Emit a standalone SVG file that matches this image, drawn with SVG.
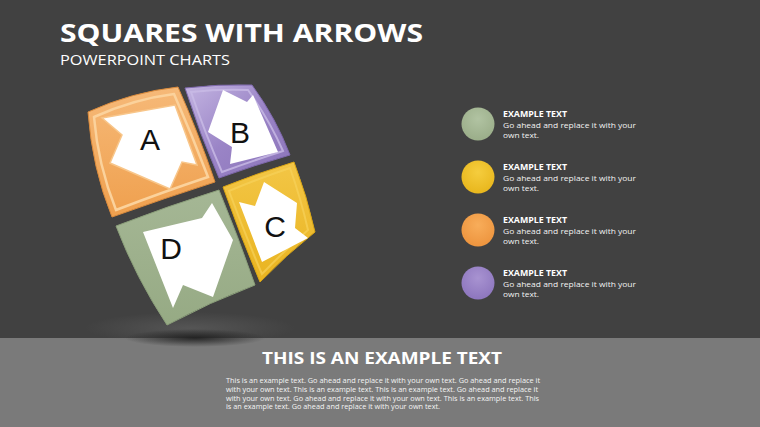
<svg xmlns="http://www.w3.org/2000/svg" width="760" height="427" viewBox="0 0 760 427">
<defs>
<linearGradient id="gA" x1="0" y1="0" x2="0" y2="1"><stop offset="0" stop-color="#f6b978"/><stop offset="1" stop-color="#efa04e"/></linearGradient>
<linearGradient id="gB" x1="0" y1="0" x2="1" y2="1"><stop offset="0" stop-color="#c4b5e2"/><stop offset="0.5" stop-color="#9a84c6"/><stop offset="1" stop-color="#8b74ba"/></linearGradient>
<linearGradient id="gC" x1="0" y1="0" x2="0" y2="1"><stop offset="0" stop-color="#f3c646"/><stop offset="1" stop-color="#e9b420"/></linearGradient>
<linearGradient id="gD" x1="0" y1="0" x2="0" y2="1"><stop offset="0" stop-color="#a5b795"/><stop offset="1" stop-color="#96aa84"/></linearGradient>
<radialGradient id="cG" cx="0.5" cy="0.35" r="0.6"><stop offset="0" stop-color="#b1c3a2"/><stop offset="1" stop-color="#9caf8b"/></radialGradient>
<radialGradient id="cY" cx="0.5" cy="0.35" r="0.6"><stop offset="0" stop-color="#f5cd3e"/><stop offset="1" stop-color="#e9b81f"/></radialGradient>
<radialGradient id="cO" cx="0.5" cy="0.35" r="0.6"><stop offset="0" stop-color="#f8ad5a"/><stop offset="1" stop-color="#ee9640"/></radialGradient>
<radialGradient id="cP" cx="0.5" cy="0.35" r="0.6"><stop offset="0" stop-color="#a893d1"/><stop offset="1" stop-color="#8f78bf"/></radialGradient>
<radialGradient id="sh" cx="0.5" cy="0.5" r="0.5"><stop offset="0" stop-color="#1e1e1e" stop-opacity="0.9"/><stop offset="1" stop-color="#1e1e1e" stop-opacity="0"/></radialGradient>
<radialGradient id="glow" cx="0.5" cy="0.5" r="0.5"><stop offset="0" stop-color="#5a5a5a" stop-opacity="0.8"/><stop offset="1" stop-color="#5a5a5a" stop-opacity="0"/></radialGradient>
</defs>
<style>
.t{font-family:"Open Sans","Liberation Sans",sans-serif;fill:#ffffff}
.big{font-family:"Liberation Sans","Open Sans",sans-serif;font-size:30px;fill:#111111;text-anchor:middle}
.arr{fill:#ffffff}
.lh{font-family:"Open Sans","Liberation Sans",sans-serif;font-size:8px;font-weight:bold;fill:#ffffff}
.lt{font-family:"Open Sans","Liberation Sans",sans-serif;font-size:8px;fill:#f2f2f2}
.p{font-family:"Open Sans","Liberation Sans",sans-serif;font-size:7px;fill:#f4f4f4}
</style>
<rect x="0" y="0" width="760" height="427" fill="#414141"/>
<rect x="0" y="338" width="760" height="89" fill="#7a7a7a"/>
<ellipse cx="190" cy="328" rx="105" ry="16" fill="url(#glow)"/>
<ellipse cx="195" cy="338" rx="70" ry="9" fill="url(#sh)"/>

<text class="t" x="60" y="42" font-size="25" font-weight="bold" textLength="363" lengthAdjust="spacingAndGlyphs">SQUARES WITH ARROWS</text>
<text class="t" x="60" y="65" font-size="14" textLength="170" lengthAdjust="spacingAndGlyphs">POWERPOINT CHARTS</text>

<g id="tileA">
<path d="M88,112 Q132,92 178,87 Q198,132 215,182 Q165,198 112,217 Q92,168 88,112 Z" fill="url(#gA)" stroke="#d98a3c" stroke-width="1"/>
<path d="M94,117 Q134,99 174,94 Q192,135 208,177 Q163,192 116,210 Q98,165 94,117 Z" fill="none" stroke="#fbd29c" stroke-width="2.5"/>
<polygon class="arr" points="102,118 175,105 197,165 182,162 170,189 110,163 122,135" stroke="#f8c68a" stroke-width="1.5"/>
<text class="big" x="150" y="150">A</text>
</g>
<g id="tileB">
<path d="M185,88 Q218,84 252,85 Q276,118 290,155 Q255,165 219,178 Q200,135 185,88 Z" fill="url(#gB)" stroke="#7e68ad" stroke-width="1"/>
<path d="M191,92 Q219,89 248,90 Q270,121 283,151 Q252,161 222,172 Q205,133 191,92 Z" fill="none" stroke="#c9bbe6" stroke-width="2" opacity="0.8"/>
<polygon class="arr" points="223,90 247,102 253,95 278,152 230,164 232,147 208,132"/>
<text class="big" x="240" y="143">B</text>
</g>
<g id="tileC">
<path d="M223,187 Q258,173 294,162 Q307,196 315,232 Q286,255 260,282 Q240,235 223,187 Z" fill="url(#gC)" stroke="#d9a514" stroke-width="1"/>
<path d="M229,191 Q260,178 290,168 Q301,199 308,230 Q284,251 262,274 Q244,232 229,191 Z" fill="none" stroke="#f6d15a" stroke-width="2" opacity="0.7"/>
<polygon class="arr" points="239,202 255,206 264,182 297,203 295,228 308,238 262,262"/>
<text class="big" x="275" y="237">C</text>
</g>
<g id="tileD">
<path d="M116,226 Q168,206 219,190 Q238,236 255,285 Q210,302 167,325 Q136,278 116,226 Z" fill="url(#gD)" stroke="#8a9e79" stroke-width="1"/>
<polygon class="arr" points="143,232 202,218 212,203 233,240 213,297 183,285 173,308"/>
<text class="big" x="171" y="259">D</text>
</g>

<g id="legend1">
<circle cx="478" cy="124" r="16.5" fill="url(#cG)"/>
<text class="lh" x="503" y="117" textLength="64" lengthAdjust="spacingAndGlyphs">EXAMPLE TEXT</text>
<text class="lt" x="503" y="127.5" textLength="133" lengthAdjust="spacingAndGlyphs">Go ahead and replace it with your</text>
<text class="lt" x="503" y="137.5" textLength="36" lengthAdjust="spacingAndGlyphs">own text.</text>
</g>
<g id="legend2">
<circle cx="478" cy="177" r="16.5" fill="url(#cY)"/>
<text class="lh" x="503" y="170" textLength="64" lengthAdjust="spacingAndGlyphs">EXAMPLE TEXT</text>
<text class="lt" x="503" y="180.5" textLength="133" lengthAdjust="spacingAndGlyphs">Go ahead and replace it with your</text>
<text class="lt" x="503" y="190.5" textLength="36" lengthAdjust="spacingAndGlyphs">own text.</text>
</g>
<g id="legend3">
<circle cx="478" cy="230" r="16.5" fill="url(#cO)"/>
<text class="lh" x="503" y="223" textLength="64" lengthAdjust="spacingAndGlyphs">EXAMPLE TEXT</text>
<text class="lt" x="503" y="233.5" textLength="133" lengthAdjust="spacingAndGlyphs">Go ahead and replace it with your</text>
<text class="lt" x="503" y="243.5" textLength="36" lengthAdjust="spacingAndGlyphs">own text.</text>
</g>
<g id="legend4">
<circle cx="478" cy="283" r="16.5" fill="url(#cP)"/>
<text class="lh" x="503" y="276" textLength="64" lengthAdjust="spacingAndGlyphs">EXAMPLE TEXT</text>
<text class="lt" x="503" y="286.5" textLength="133" lengthAdjust="spacingAndGlyphs">Go ahead and replace it with your</text>
<text class="lt" x="503" y="296.5" textLength="36" lengthAdjust="spacingAndGlyphs">own text.</text>
</g>

<g id="footer">
<text class="t" x="262" y="364" font-size="16.5" font-weight="bold" textLength="240" lengthAdjust="spacingAndGlyphs">THIS IS AN EXAMPLE TEXT</text>
<text class="p" x="226" y="383" textLength="314" lengthAdjust="spacingAndGlyphs">This is an example text. Go ahead and replace it with your own text. Go ahead and replace it</text>
<text class="p" x="226" y="391.8" textLength="312" lengthAdjust="spacingAndGlyphs">with your own text. This is an example text. This is an example text. Go ahead and replace it</text>
<text class="p" x="226" y="400.6" textLength="313" lengthAdjust="spacingAndGlyphs">with your own text. Go ahead and replace it with your own text. This is an example text. This</text>
<text class="p" x="226" y="409.4" textLength="214" lengthAdjust="spacingAndGlyphs">is an example text. Go ahead and replace it with your own text.</text>
</g>
</svg>
